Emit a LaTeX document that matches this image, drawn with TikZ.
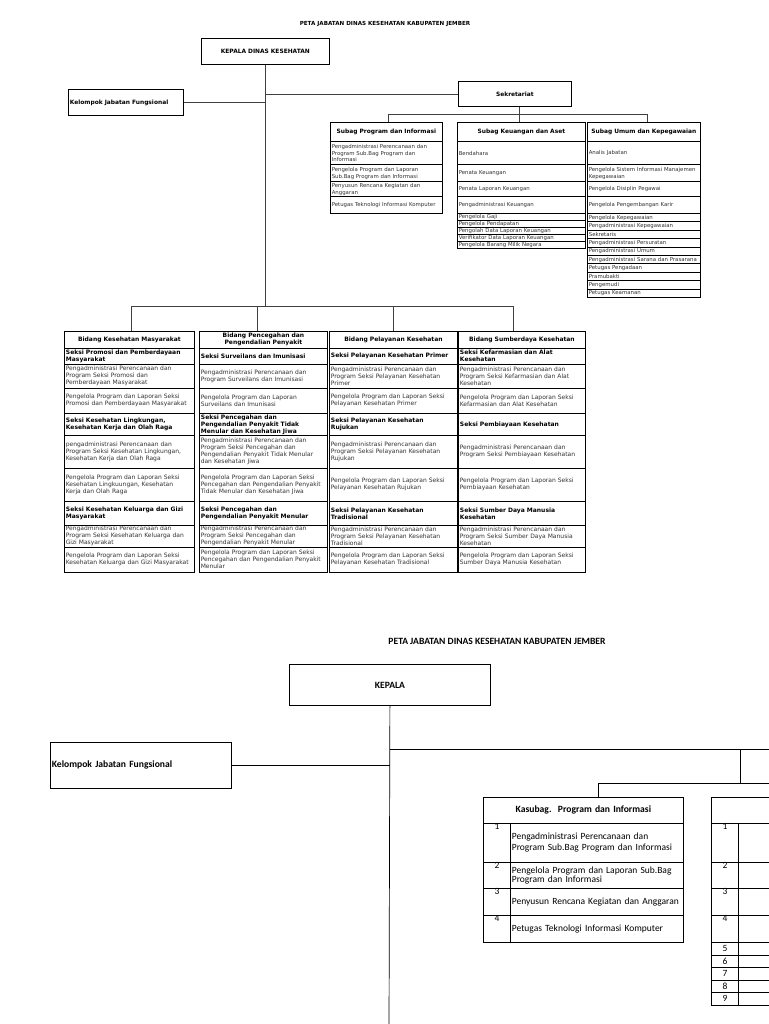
\documentclass[tikz,border=0pt]{standalone}
\usepackage{fontspec}
\setmainfont{DejaVu Sans}
\newfontfamily\calfont{Carlito}
\newcommand\fsB{\fontsize{6}{7}\selectfont}
\newcommand\fsBb{\fontsize{6}{7}\selectfont\bfseries}
\newcommand\fsS{\fontsize{5.4}{6.6}\selectfont}
\newcommand\fsH{\fontsize{5.9}{7}\selectfont\bfseries}
\newcommand\fsC{\calfont\fontsize{9.5}{11}\selectfont}
\newcommand\fsCb{\calfont\fontsize{9.6}{11}\selectfont\bfseries}
\newcommand\cel[7][]{%
  \pgfmathsetmacro\celw{#4-#3-3}%
  \pgfmathsetmacro\celh{#6-#5}%
  \node[cellbox,#1,text width=\celw pt,minimum height=\celh pt] (#2) at (#3,#5) {#7};}
\tikzset{
  cellbox/.style={draw=black, line width=0.5pt, anchor=north west, inner xsep=1.5pt,
    inner ysep=0.3pt, align=left, font=\fsB, text=black!80},
  seksi/.style={font=\fsBb, line width=0.9pt, text=black},
  bhead/.style={font=\fsBb, align=center, line width=0.9pt, text=black},
  sub/.style={font=\fsS},
  thin/.style={font=\fsS, line width=0.7pt},
  shead/.style={font=\fsH, align=center, line width=0.8pt, text=black},
  topl/.style={font=\fsH, line width=0.8pt, text=black},
  conn/.style={draw=black!75, line width=0.6pt},
  bconn/.style={draw=black, line width=0.7pt},
  cbox/.style={font=\fsCb, align=center, line width=0.8pt, text=black},
  cboxl/.style={font=\fsCb, line width=0.8pt, text=black},
  ccell/.style={font=\fsC, line width=0.8pt, text=black},
  ntext/.style={font=\fsC, anchor=north, inner sep=0.5pt, text=black},
}
\begin{document}
\begin{tikzpicture}[x=1pt,y=-1pt]
\useasboundingbox (0,0) rectangle (768,1024);
\fill[white] (0,0) rectangle (768,1024);

% ================= TOP SECTION =================
\node[font=\fontsize{5.6}{6}\selectfont\bfseries] (title) at (385,24) {PETA JABATAN DINAS KESEHATAN KABUPATEN JEMBER};
\cel[shead]{kepala}{201}{329}{38}{64}{KEPALA DINAS KESEHATAN}
\cel[topl]{kjf}{68}{183}{89}{115}{Kelompok Jabatan Fungsional}
\cel[shead]{sek}{458}{571}{81}{106}{Sekretariat}

% Subag Program
\cel[shead]{sp}{330}{442}{122}{141}{Subag Program dan Informasi}
\cel[sub]{sp1}{330}{442}{141}{164.5}{Pengadministrasi Perencanaan dan\\Program Sub.Bag Program dan\\Informasi}
\cel[sub]{sp2}{330}{442}{164.5}{181.5}{Pengelola Program dan Laporan\\Sub.Bag Program dan Informasi}
\cel[sub]{sp3}{330}{442}{181.5}{196.5}{Penyusun Rencana Kegiatan dan\\Anggaran}
\cel[sub]{sp4}{330}{442}{196.5}{213}{Petugas Teknologi Informasi Komputer}

% Subag Keuangan
\cel[shead]{sk}{457}{585}{122}{141}{Subag Keuangan dan Aset}
\cel[sub]{sk1}{457}{585}{141}{164.5}{Bendahara}
\cel[sub]{sk2}{457}{585}{164.5}{181.5}{Penata Keuangan}
\cel[sub]{sk3}{457}{585}{181.5}{196.5}{Penata Laporan Keuangan}
\cel[sub]{sk4}{457}{585}{196.5}{213}{Pengadministrasi Keuangan}
\cel[thin]{sk5}{457}{585}{213}{220}{Pengelola Gaji}
\cel[thin]{sk6}{457}{585}{220}{227}{Pengelola Pendapatan}
\cel[thin]{sk7}{457}{585}{227}{234}{Pengolah Data Laporan Keuangan}
\cel[thin]{sk8}{457}{585}{234}{241}{Verifikator Data Laporan Keuangan}
\cel[thin]{sk9}{457}{585}{241}{248}{Pengelola Barang Milik Negara}

% Subag Umum
\cel[shead]{su}{587}{700}{122}{141}{Subag Umum dan Kepegawaian}
\cel[sub]{su1}{587}{700}{141}{164.5}{Analis Jabatan}
\cel[sub]{su2}{587}{700}{164.5}{181.5}{Pengelola Sistem Informasi Manajemen\\Kepegawaian}
\cel[sub]{su3}{587}{700}{181.5}{196.5}{Pengelola Disiplin Pegawai}
\cel[sub]{su4}{587}{700}{196.5}{213}{Pengelola Pengembangan Karir}
\cel[thin]{su5}{587}{700}{213}{221.4}{Pengelola Kepegawaian}
\cel[thin]{su6}{587}{700}{221.4}{229.8}{Pengadministrasi Kepegawaian}
\cel[thin]{su7}{587}{700}{229.8}{238.2}{Sekretaris}
\cel[thin]{su8}{587}{700}{238.2}{246.6}{Pengadministrasi Persuratan}
\cel[thin]{su9}{587}{700}{246.6}{255}{Pengadministrasi Umum}
\cel[thin]{su10}{587}{700}{255}{263.4}{Pengadministrasi Sarana dan Prasarana}
\cel[thin]{su11}{587}{700}{263.4}{271.8}{Petugas Pengadaan}
\cel[thin]{su12}{587}{700}{271.8}{280.2}{Pramubakti}
\cel[thin]{su13}{587}{700}{280.2}{288.6}{Pengemudi}
\cel[thin]{su14}{587}{700}{288.6}{297}{Petugas Keamanan}

% Bidang Kesehatan Masyarakat
\cel[bhead]{a0}{64}{194}{331}{347.5}{Bidang Kesehatan Masyarakat}
\cel[seksi]{a1}{64}{194}{347.5}{364}{Seksi Promosi dan Pemberdayaan\\Masyarakat}
\cel{a2}{64}{194}{364}{388}{Pengadministrasi Perencanaan dan\\Program Seksi Promosi dan\\Pemberdayaan Masyarakat}
\cel{a3}{64}{194}{388}{413}{Pengelola Program dan Laporan Seksi\\Promosi dan Pemberdayaan Masyarakat}
\cel[seksi]{a4}{64}{194}{413}{435}{Seksi Kesehatan Lingkungan,\\Kesehatan Kerja dan Olah Raga}
\cel{a5}{64}{194}{435}{468}{pengadministrasi Perencanaan dan\\Program Seksi Kesehatan Lingkungan,\\Kesehatan Kerja dan Olah Raga}
\cel{a6}{64}{194}{468}{501}{Pengelola Program dan Laporan Seksi\\Kesehatan Lingkuungan, Kesehatan\\Kerja dan Olah Raga}
\cel[seksi]{a7}{64}{194}{501}{525}{Seksi Kesehatan Keluarga dan Gizi\\Masyarakat}
\cel{a8}{64}{194}{525}{547}{Pengadministrasi Perencanaan dan\\Program Seksi Kesehatan Keluarga dan\\Gizi Masyarakat}
\cel{a9}{64}{194}{547}{572}{Pengelola Program dan Laporan Seksi\\Kesehatan Keluarga dan Gizi Masyarakat}

% Bidang Pencegahan
\cel[bhead]{b0}{199}{327}{331}{347.5}{Bidang Pencegahan dan\\Pengendalian Penyakit}
\cel[seksi]{b1}{199}{327}{347.5}{364}{Seksi Surveilans dan Imunisasi}
\cel{b2}{199}{327}{364}{388}{Pengadministrasi Perencanaan dan\\Program Surveilans dan Imunisasi}
\cel{b3}{199}{327}{388}{413}{Pengelola Program dan Laporan\\Surveilans dan Imunisasi}
\cel[seksi]{b4}{199}{327}{413}{435}{Seksi Pencegahan dan\\Pengendalian Penyakit Tidak\\Menular dan Kesehatan Jiwa}
\cel{b5}{199}{327}{435}{468}{Pengadministrasi Perencanaan dan\\Program Seksi Pencegahan dan\\Pengendalian Penyakit Tidak Menular\\dan Kesehatan Jiwa}
\cel{b6}{199}{327}{468}{501}{Pengelola Program dan Laporan Seksi\\Pencegahan dan Pengendalian Penyakit\\Tidak Menular dan Kesehatan Jiwa}
\cel[seksi]{b7}{199}{327}{501}{525}{Seksi Pencegahan dan\\Pengendalian Penyakit Menular}
\cel{b8}{199}{327}{525}{547}{Pengadministrasi Perencanaan dan\\Program Seksi Pencegahan dan\\Pengendalian Penyakit Menular}
\cel{b9}{199}{327}{547}{572}{Pengelola Program dan Laporan Seksi\\Pencegahan dan Pengendalian Penyakit\\Menular}

% Bidang Pelayanan
\cel[bhead]{c0}{329}{457}{331}{347.5}{Bidang Pelayanan Kesehatan}
\cel[seksi]{c1}{329}{457}{347.5}{364}{Seksi Pelayanan Kesehatan Primer}
\cel{c2}{329}{457}{364}{388}{Pengadministrasi Perencanaan dan\\Program Seksi Pelayanan Kesehatan\\Primer}
\cel{c3}{329}{457}{388}{413}{Pengelola Program dan Laporan Seksi\\Pelayanan Kesehatan Primer}
\cel[seksi]{c4}{329}{457}{413}{435}{Seksi Pelayanan Kesehatan\\Rujukan}
\cel{c5}{329}{457}{435}{468}{Pengadministrasi Perencanaan dan\\Program Seksi Pelayanan Kesehatan\\Rujukan}
\cel{c6}{329}{457}{468}{501}{Pengelola Program dan Laporan Seksi\\Pelayanan Kesehatan Rujukan}
\cel[seksi]{c7}{329}{457}{501}{525}{Seksi Pelayanan Kesehatan\\Tradisional}
\cel{c8}{329}{457}{525}{547}{Pengadministrasi Perencanaan dan\\Program Seksi Pelayanan Kesehatan\\Tradisional}
\cel{c9}{329}{457}{547}{572}{Pengelola Program dan Laporan Seksi\\Pelayanan Kesehatan Tradisional}

% Bidang Sumberdaya
\cel[bhead]{d0}{458}{585}{331}{347.5}{Bidang Sumberdaya Kesehatan}
\cel[seksi]{d1}{458}{585}{347.5}{364}{Seksi Kefarmasian dan Alat\\Kesehatan}
\cel{d2}{458}{585}{364}{388}{Pengadministrasi Perencanaan dan\\Program Seksi Kefarmasian dan Alat\\Kesehatan}
\cel{d3}{458}{585}{388}{413}{Pengelola Program dan Laporan Seksi\\Kefarmasian dan Alat Kesehatan}
\cel[seksi]{d4}{458}{585}{413}{435}{Seksi Pembiayaan Kesehatan}
\cel{d5}{458}{585}{435}{468}{Pengadministrasi Perencanaan dan\\Program Seksi Pembiayaan Kesehatan}
\cel{d6}{458}{585}{468}{501}{Pengelola Program dan Laporan Seksi\\Pembiayaan Kesehatan}
\cel[seksi]{d7}{458}{585}{501}{525}{Seksi Sumber Daya Manusia\\Kesehatan}
\cel{d8}{458}{585}{525}{547}{Pengadministrasi Perencanaan dan\\Program Seksi Sumber Daya Manusia\\Kesehatan}
\cel{d9}{458}{585}{547}{572}{Pengelola Program dan Laporan Seksi\\Sumber Daya Manusia Kesehatan}

% top connectors
\coordinate (bl) at (266,306);
\coordinate (sl) at (519,114);
\draw[conn] (kepala.south) -- (kepala.south |- bl);
\draw[conn] (kjf.east) -- (kjf.east -| kepala.south);
\draw[conn] (sek.west) -- (sek.west -| kepala.south);
\draw[conn] (sek.south -| sl) -- (sl);
\coordinate (s1) at (388,114);
\coordinate (s3) at (647,114);
\draw[conn] (s1) -- (s3);
\draw[conn] (s1) -- (s1 |- sp.north);
\draw[conn] (sl) -- (sl |- sk.north);
\draw[conn] (s3) -- (s3 |- su.north);
\coordinate (q1) at (131,306);
\coordinate (q2) at (257,306);
\coordinate (q3) at (393,306);
\coordinate (q4) at (513,306);
\draw[conn] (q1) -- (q4);
\draw[conn] (q1) -- (q1 |- a0.north);
\draw[conn] (q2) -- (q2 |- b0.north);
\draw[conn] (q3) -- (q3 |- c0.north);
\draw[conn] (q4) -- (q4 |- d0.north);

% ================= BOTTOM SECTION =================
\node[font=\fsCb] (title2) at (497,641) {PETA JABATAN DINAS KESEHATAN KABUPATEN JEMBER};
\cel[cbox]{kep2}{289}{490}{664}{705}{KEPALA}
\cel[cboxl]{kjf2}{50}{231}{742}{788}{Kelompok Jabatan Fungsional}

\cel[cbox]{ksh}{483}{683}{797}{823}{Kasubag.\ \ Program dan Informasi}
\cel[ccell]{kn1}{483}{510}{823}{862}{}
\cel[ccell]{kn2}{483}{510}{862}{888}{}
\cel[ccell]{kn3}{483}{510}{888}{915}{}
\cel[ccell]{kn4}{483}{510}{915}{942}{}
\node[ntext] (kn1t) at (kn1.north) {1};
\node[ntext] (kn2t) at (kn2.north) {2};
\node[ntext] (kn3t) at (kn3.north) {3};
\node[ntext] (kn4t) at (kn4.north) {4};
\cel[ccell]{kc1}{510}{683}{823}{862}{Pengadministrasi Perencanaan dan\\Program Sub.Bag Program dan Informasi}
\cel[ccell,font=\calfont\fontsize{9.5}{8}\selectfont]{kc2}{510}{683}{862}{888}{Pengelola Program dan Laporan Sub.Bag\\Program dan Informasi}
\cel[ccell]{kc3}{510}{683}{888}{915}{Penyusun Rencana Kegiatan dan Anggaran}
\cel[ccell]{kc4}{510}{683}{915}{942}{Petugas Teknologi Informasi Komputer}

% right partial box
\cel[ccell]{rh}{711}{790}{797}{823}{}
\cel[ccell]{rn1}{711}{738}{823}{862}{}
\cel[ccell]{rn2}{711}{738}{862}{888}{}
\cel[ccell]{rn3}{711}{738}{888}{915}{}
\cel[ccell]{rn4}{711}{738}{915}{942}{}
\node[ntext] (rn1t) at (rn1.north) {1};
\node[ntext] (rn2t) at (rn2.north) {2};
\node[ntext] (rn3t) at (rn3.north) {3};
\node[ntext] (rn4t) at (rn4.north) {4};
\cel[ccell,align=center]{rn5}{711}{738}{942}{954.5}{5}
\cel[ccell,align=center]{rn6}{711}{738}{954.5}{967}{6}
\cel[ccell,align=center]{rn7}{711}{738}{967}{979.5}{7}
\cel[ccell,align=center]{rn8}{711}{738}{979.5}{992}{8}
\cel[ccell,align=center]{rn9}{711}{738}{992}{1004.5}{9}
\cel[ccell]{rc1}{738}{790}{823}{862}{}
\cel[ccell]{rc2}{738}{790}{862}{888}{}
\cel[ccell]{rc3}{738}{790}{888}{915}{}
\cel[ccell]{rc4}{738}{790}{915}{942}{}
\cel[ccell]{rc5}{738}{790}{942}{954.5}{}
\cel[ccell]{rc6}{738}{790}{954.5}{967}{}
\cel[ccell]{rc7}{738}{790}{967}{979.5}{}
\cel[ccell]{rc8}{738}{790}{979.5}{992}{}
\cel[ccell]{rc9}{738}{790}{992}{1004.5}{}

% bottom connectors
\coordinate (pb) at (389,1030);
\coordinate (h1) at (780,749);
\coordinate (h2) at (780,783);
\coordinate (dk) at (598,783);
\coordinate (v7) at (740,749);
\draw[bconn] (kep2.south) -- (pb);
\draw[bconn] (kep2.south |- h1) -- (h1);
\draw[bconn] (kjf2.east) -- (kjf2.east -| kep2.south);
\draw[bconn] (dk) -- (h2);
\draw[bconn] (dk) -- (dk |- ksh.north);
\draw[bconn] (v7) -- (v7 |- h2);
\end{tikzpicture}
\end{document}
